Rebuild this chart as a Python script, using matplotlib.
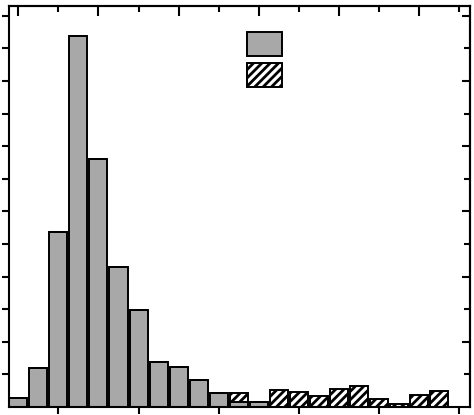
import numpy as np
import matplotlib
matplotlib.use("Agg")
import matplotlib.pyplot as plt

# -------------------- Data --------------------

bins = np.arange(22)
gray = [0.28, 1.20, 5.37, 11.38, 7.60, 4.29, 2.98, 1.38, 1.23, 0.83, 0.43,
        0.15, 0.15, 0, 0, 0, 0, 0, 0, 0, 0, 0]
hatched = [0, 0, 0, 0, 0, 0, 0, 0, 0, 0, 0,
           0.28, 0, 0.52, 0.46, 0.34, 0.55, 0.64, 0.25, 0.10, 0.37, 0.49]

bottom_ticks = [2, 6, 10, 14, 18, 22]
top_major = [0, 4, 8, 12, 16, 20]
top_minor = [2, 6, 10, 14, 18, 22]
y_ticks = list(range(1, 13))

# -------------------- Plot --------------------

plt.rcParams["hatch.linewidth"] = 2.0
plt.rcParams["hatch.color"] = "black"

fig = plt.figure(figsize=(4.74, 4.15), dpi=100)
ax = fig.add_axes([9 / 474, 8 / 415, 461 / 474, 401 / 415])

b1 = ax.bar(bins, gray, width=0.9, color="#a8a8a8", edgecolor="black", linewidth=1.4)
b2 = ax.bar(bins, hatched, width=0.9, bottom=gray, color="white", edgecolor="black",
            linewidth=1.4, hatch="////")

ax.set_xlim(-0.465, 22.54)
ax.set_ylim(0, 12.3)

for s in ax.spines.values():
    s.set_linewidth(1.5)

ax.set_xticks(bottom_ticks)
ax.set_yticks(y_ticks)
ax.tick_params(direction="out", length=5, width=1.5, labelbottom=False, labelleft=False)

top = ax.secondary_xaxis("top")
top.set_xticks(top_major)
top.set_xticks(top_minor, minor=True)
top.tick_params(which="major", direction="in", length=7, width=1.5, labeltop=False)
top.tick_params(which="minor", direction="in", length=4, width=1.5)
top.spines["top"].set_linewidth(1.5)

right = ax.secondary_yaxis("right")
right.set_yticks([t for t in y_ticks if t % 2 == 0])
right.set_yticks([t for t in y_ticks if t % 2 == 1], minor=True)
right.tick_params(which="major", direction="in", length=6, width=1.5, labelright=False)
right.tick_params(which="minor", direction="in", length=4, width=1.5)
right.spines["right"].set_linewidth(1.5)

ax.legend([b1, b2], ["", ""], loc="upper left",
          bbox_to_anchor=((247 - 9) / 461, (407 - 32) / 401),
          frameon=False, borderpad=0, borderaxespad=0,
          handlelength=2.52, handleheight=2.25, labelspacing=0.55,
          handletextpad=0)

fig.savefig("out.png", dpi=100)
